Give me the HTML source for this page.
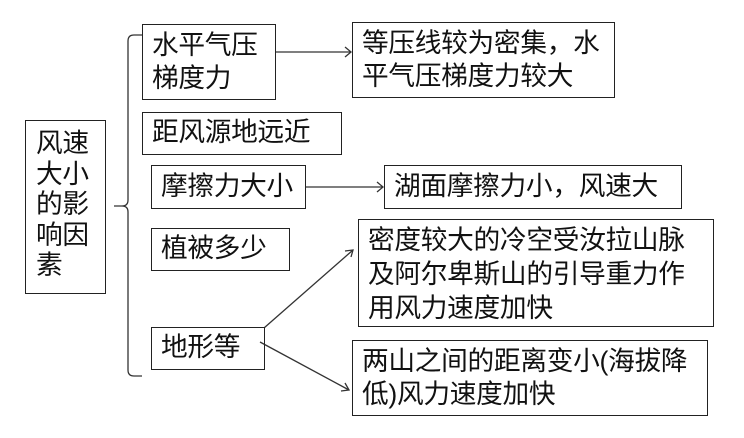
<!DOCTYPE html>
<html><head><meta charset="utf-8"><style>
body{margin:0;width:744px;height:438px;background:#fff;position:relative;overflow:hidden;font-family:"Liberation Sans","Noto Sans CJK SC",sans-serif;color:#111}
.b{position:absolute;border:1.5px solid #222;box-sizing:border-box;font-size:26.7px;line-height:33px;padding:0 0 0 9px;white-space:nowrap;letter-spacing:-0.3px}
</style></head><body>
<svg width="744" height="438" style="position:absolute;left:0;top:0">
<g stroke="#333" stroke-width="1.3" fill="none">
<path d="M142,35 H134 Q128,35 128,41 V200 Q128,206 122,206 H114 M122,206 Q128,206 128,212 V370 Q128,376 134,376 H142"/>
<line x1="275" y1="52" x2="351" y2="52"/><path d="M345,47 L351,52 L345,57"/>
<line x1="305" y1="187" x2="383" y2="187"/><path d="M377,182 L383,187 L377,192"/>
<line x1="264" y1="328" x2="353" y2="250"/><path d="M345,251 L353,250 L351,257"/>
<line x1="260" y1="342" x2="349" y2="390"/><path d="M341,391 L349,390 L345,383"/>
</g></svg>
<div class="b" style="left:25px;top:120px;width:81px;height:174px;line-height:30.5px;padding:7px 0 0 10px">风速<br>大小<br>的影<br>响因<br>素</div>
<div class="b" style="left:142px;top:24px;width:134px;height:76px;padding-top:4px">水平气压<br>梯度力</div>
<div class="b" style="left:142px;top:112px;width:200px;height:43px;padding-top:3px">距风源地远近</div>
<div class="b" style="left:151px;top:165px;width:155px;height:44px;padding-top:4px">摩擦力大小</div>
<div class="b" style="left:151px;top:228px;width:139px;height:43px;padding-top:3px">植被多少</div>
<div class="b" style="left:151px;top:327px;width:114px;height:43px;padding-top:3px">地形等</div>
<div class="b" style="left:352px;top:22px;width:263px;height:76px;padding-top:4px">等压线较为密集，水<br>平气压梯度力较大</div>
<div class="b" style="left:384px;top:165px;width:298px;height:44px;padding-top:4px">湖面摩擦力小，风速大</div>
<div class="b" style="left:358px;top:219px;width:356px;height:108px;padding-top:3px;line-height:34px">密度较大的冷空受汝拉山脉<br>及阿尔卑斯山的引导重力作<br>用风力速度加快</div>
<div class="b" style="left:352px;top:340px;width:356px;height:76px;padding-top:4px">两山之间的距离变小(海拔降<br>低)风力速度加快</div>
</body></html>
